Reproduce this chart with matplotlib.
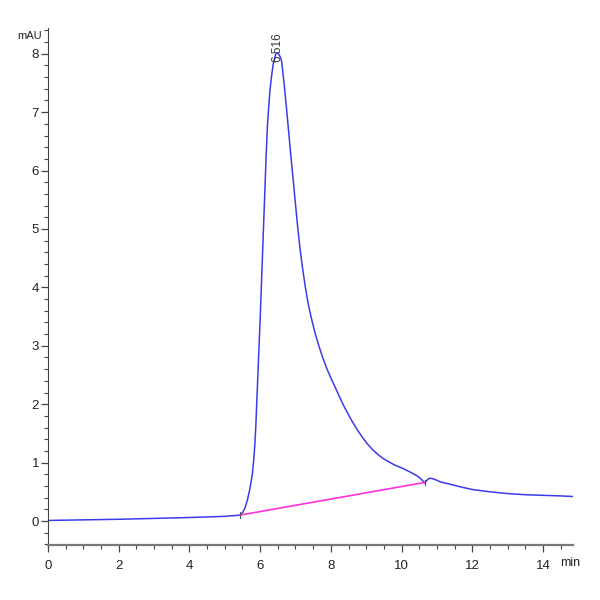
import matplotlib
matplotlib.use("Agg")
import matplotlib.pyplot as plt
from matplotlib.ticker import MultipleLocator

plt.rcParams['font.family'] = ['Liberation Sans', 'DejaVu Sans']

# Chromatogram trace (time in min, signal in mAU)
time_min = [0.0, 1.0, 2.0, 3.0, 4.0, 4.5, 5.0, 5.42, 5.5, 5.57, 5.64, 5.71, 5.78,
            5.82, 5.85, 5.88, 5.91, 5.95, 5.98, 6.01, 6.04, 6.07, 6.1, 6.14, 6.17,
            6.21, 6.25, 6.28, 6.32, 6.37, 6.42, 6.45, 6.48, 6.53, 6.58, 6.61, 6.68,
            6.75, 6.82, 6.89, 6.95, 7.01, 7.07, 7.13, 7.2, 7.28, 7.36, 7.45, 7.55,
            7.66, 7.77, 7.88, 8.0, 8.1, 8.22, 8.35, 8.5, 8.6, 8.75, 8.92, 9.05,
            9.2, 9.35, 9.48, 9.65, 9.8, 10.0, 10.14, 10.3, 10.45, 10.55, 10.6,
            10.65, 10.72, 10.78, 10.85, 10.95, 11.1, 11.37, 11.7, 12.0, 12.5, 13.0,
            13.5, 14.0, 14.5, 14.85]
signal_mau = [0.01, 0.02, 0.03, 0.045, 0.06, 0.07, 0.08, 0.10, 0.14, 0.22, 0.36, 0.55, 0.80,
              1.05, 1.30, 1.65, 2.10, 2.70, 3.15, 3.60, 4.10, 4.60, 5.10, 5.75, 6.25,
              6.80, 7.15, 7.38, 7.60, 7.82, 7.95, 8.00, 8.02, 7.99, 7.93, 7.86, 7.48,
              7.04, 6.58, 6.12, 5.75, 5.36, 4.99, 4.66, 4.33, 4.00, 3.72, 3.47, 3.23,
              3.00, 2.80, 2.62, 2.45, 2.32, 2.16, 1.99, 1.82, 1.71, 1.56, 1.41, 1.31,
              1.21, 1.13, 1.07, 1.01, 0.96, 0.91, 0.87, 0.82, 0.77, 0.72, 0.69,
              0.65, 0.70, 0.73, 0.73, 0.71, 0.67, 0.63, 0.58, 0.54, 0.50, 0.47,
              0.45, 0.44, 0.43, 0.42]

# Integration baseline (start, end)
baseline_t = [5.42, 10.65]
baseline_v = [0.10, 0.66]

peak_rt = 6.49
peak_top = 8.02
peak_label = "6.516"

fig = plt.figure(figsize=(6, 6), dpi=100)
ax = fig.add_axes([0.08, 0.0917, 0.875, 0.8616])

ax.plot(time_min, signal_mau, color='#3b3bee', lw=1.1, solid_joinstyle='round')
ax.plot(baseline_t, baseline_v, color='#ff33dd', lw=1.2)
for bt, bv in zip(baseline_t, baseline_v):
    ax.plot([bt, bt], [bv - 0.05, bv + 0.05], color='#555555', lw=0.8)

ax.text(peak_rt, peak_top + 0.09, peak_label, rotation=90, ha='center', va='center',
        fontsize=8.5, color='#333333')

ax.set_xlim(0, 14.85)
ax.set_ylim(-0.41, 8.44)

for s in ['top', 'right']:
    ax.spines[s].set_visible(False)
ax.spines['left'].set_color('#444444')
ax.spines['bottom'].set_color('#777777')
ax.spines['bottom'].set_linewidth(1.6)

ax.xaxis.set_major_locator(MultipleLocator(2))
ax.xaxis.set_minor_locator(MultipleLocator(0.5))
ax.yaxis.set_major_locator(MultipleLocator(1))
ax.yaxis.set_minor_locator(MultipleLocator(0.2))
ax.tick_params(axis='both', which='major', direction='out', length=5, width=0.9,
               color='#444444', labelsize=9.5, labelcolor='#222222')
ax.tick_params(axis='x', which='major', pad=6)
ax.tick_params(axis='y', which='major', pad=1.5)
ax.tick_params(axis='both', which='minor', direction='out', length=3, width=0.8,
               color='#444444')

ax.text(-0.012, 0.985, 'mAU', transform=ax.transAxes, ha='right', va='center',
        fontsize=8, color='#222222')
ax.text(0.975, -0.035, 'min', transform=ax.transAxes, ha='left', va='center',
        fontsize=9, color='#222222', clip_on=False)

fig.savefig('out.png', dpi=100, facecolor='white')
